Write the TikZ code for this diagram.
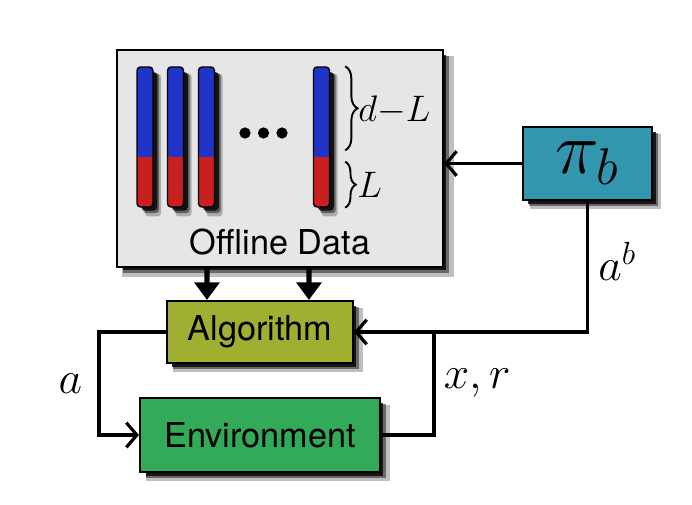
\RequirePackage{fix-cm}
\documentclass[tikz,border=0pt]{standalone}
\usepackage{fontspec}
\setsansfont{TeX Gyre Heros}
\usepackage{tikz}
\usetikzlibrary{positioning, arrows.meta, calc, shadows}
\usetikzlibrary{decorations.pathreplacing}
\definecolor{cData}{RGB}{230,230,230}
\definecolor{cPol}{RGB}{50,150,175}
\definecolor{cAlg}{RGB}{160,175,50}
\definecolor{cEnv}{RGB}{50,170,90}
\definecolor{cBlue}{RGB}{32,52,200}
\definecolor{cRed}{RGB}{200,32,32}

\tikzset{
  shad/.style={
    drop shadow={fill=black, opacity=0.25, shadow xshift=4.5pt, shadow yshift=-4.5pt, shadow scale=1.02},
    drop shadow={fill=black, opacity=0.45, shadow xshift=3.5pt, shadow yshift=-3.5pt},
    drop shadow={fill=black, opacity=0.8, shadow xshift=2.5pt, shadow yshift=-2.5pt, shadow scale=0.99}},
  block/.style={draw, line width=1.2pt, shad, inner sep=0pt},
  blocktext/.style={font=\sffamily\fontsize{19.5}{22}\selectfont},
  bar/.style={draw, line width=0.8pt, fill=cRed, rounded corners=2pt, shad,
    minimum width=0.32cm, minimum height=2.8cm, inner sep=0pt,
    path picture={\fill[cBlue] (path picture bounding box.north west) rectangle
      ($(path picture bounding box.south east)!0.357!(path picture bounding box.north east)$);}},
  wire/.style={line width=1.8pt},
  barb/.style={wire, -{Straight Barb[length=6pt, width=14pt, line width=1.8pt]}},
  fat/.style={line width=3pt, -{Triangle[length=10pt, width=14pt]}},
  mlabel/.style={font=\fontsize{26}{30}\selectfont},
  brlabel/.style={font=\fontsize{21}{24}\selectfont, inner sep=1pt},
  brace/.style={line width=1.1pt, decorate, decoration={brace, amplitude=#1}}
}

\begin{document}
\begin{tikzpicture}[x=0.02cm, y=-0.02cm]
    \useasboundingbox (0,0) rectangle (692,504);

    % Blocks
    \node[block, fill=cData, minimum width=6.52cm, minimum height=4.34cm] (data) at (280,158.5) {};
    \node[block, fill=cPol, minimum width=2.58cm, minimum height=1.46cm] (policy) at (587.5,163.5)
      {\fontsize{42}{46}\selectfont$\pi_b$};
    \node[block, fill=cAlg, blocktext, minimum width=3.72cm, minimum height=1.24cm] (algo) at (260,332) {Algorithm};
    \node[block, fill=cEnv, blocktext, minimum width=4.8cm, minimum height=1.48cm] (env) at (260,435) {Environment};

    % Data columns
    \foreach \x/\n in {145/b1, 175.5/b2, 206.5/b3, 321.5/b4}
      \node[bar] (\n) at (\x,137) {};
    \foreach \x in {245,263.5,282}
      \fill (\x,133) circle[radius=3.2pt];
    \node[blocktext, below=0.3cm of b2.south -| data.south] (dlabel) {Offline Data};

    % Braces
    \draw[brace=7pt] ($(b4.north east)+(15,0)$) -- ($(b4.north east)+(15,84)$) coordinate[midway] (bu);
    \draw[brace=6pt] ($(b4.south east)+(15,-46)$) -- ($(b4.south east)+(15,0)$) coordinate[midway] (bl);
    \node[brlabel, anchor=west] at ($(bu)+(11,2)$) {$d{-}L$};
    \node[brlabel, anchor=west] at ($(bl)+(10,0)$) {$L$};

    % Connectors
    \draw[barb] (policy.west) -- (policy.west -| data.east);
    \draw[barb] (policy.south) |- (algo.east) node[mlabel, pos=0.23, right=2pt] {$a^b$};
    \draw[fat] ($(data.south west)+(91,0)$) -- ($(algo.north west)+(41,0)$);
    \draw[fat] ($(data.south west)+(193,0)$) -- ($(algo.north west)+(143,0)$);

    % Feedback loop
    \coordinate (al) at ($(algo.west)+(-67,0)$);
    \draw[barb] (algo.west) -- (al) |- (env.west);
    \node[mlabel, left=6pt] at ($(al)!0.5!(al |- env.west)$) {$a$};
    \coordinate (ar) at ($(algo.east)+(80,0)$);
    \draw[wire] (env.east) -| (ar);
    \node[mlabel, right=2pt] at ($(ar)!0.5!(ar |- env.east)$) {$x,r$};
\end{tikzpicture}
\end{document}
